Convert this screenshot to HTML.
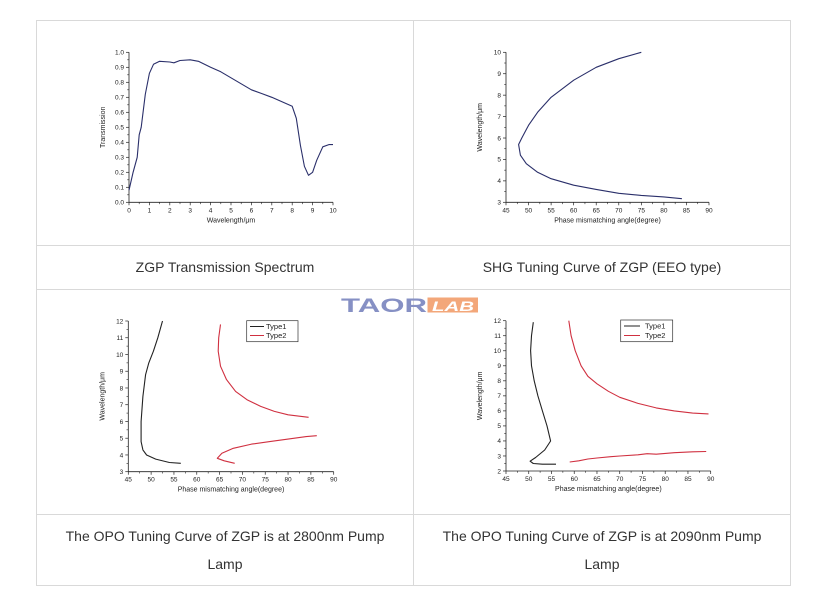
<!DOCTYPE html>
<html><head><meta charset="utf-8"><style>
body{margin:0;background:#fff;width:820px;height:616px;overflow:hidden}
svg{position:absolute;left:0;top:0}
</style></head><body>
<svg id="s" width="820" height="616" xmlns="http://www.w3.org/2000/svg" font-family="Liberation Sans, sans-serif">
<g stroke="#d9d9d9" stroke-width="1" fill="none">
<rect x="36.5" y="20.5" width="754" height="565"/>
<line x1="413.5" y1="20" x2="413.5" y2="585"/>
<line x1="36" y1="245.5" x2="790" y2="245.5"/>
<line x1="36" y1="289.5" x2="790" y2="289.5"/>
<line x1="36" y1="514.5" x2="790" y2="514.5"/>
</g>
<g font-size="14" fill="#333" text-anchor="middle">
<text x="225" y="272">ZGP Transmission Spectrum</text>
<text x="602" y="272">SHG Tuning Curve of ZGP (EEO type)</text>
<text x="225" y="541">The OPO Tuning Curve of ZGP is at 2800nm Pump</text>
<text x="225" y="569">Lamp</text>
<text x="602" y="541">The OPO Tuning Curve of ZGP is at 2090nm Pump</text>
<text x="602" y="569">Lamp</text>
</g>
<g id="ax"></g>
<g fill="none" stroke-width="1.1" stroke-linejoin="round">
<polyline stroke="#2a2f6a" points="129,190.3 133.1,172.3 137.2,157.3 139.2,134.8 141.2,127.3 145.3,94.3 149.4,73.3 153.5,64.3 159.6,61.3 169.8,62 173.9,62.8 180,60.5 190.2,59.8 198.4,61.3 210.6,67.3 220.8,71.8 231,77.8 241.2,83.8 251.4,89.8 261.6,93.5 271.8,97.3 282,101.8 292.2,106.3 296.3,118.3 300.4,145.3 304.4,166.3 308.5,175.3 312.6,172.3 316.7,160.3 322.8,146.8 328.9,144.6 333,144.6"/>
<polyline stroke="#2a2f6a" points="641.3,52.3 618.8,58.7 596.2,67.3 573.7,80.2 551.1,97.3 537.6,112.3 528.6,125.2 521.8,138 518.6,144.5 520.4,155.2 526.3,163.7 537.6,172.3 551.1,178.7 573.7,185.2 596.2,189.4 618.8,193.3 641.3,195.4 663.9,196.9 681.9,198.7"/>
<polyline stroke="#222" points="162.5,321 157.8,337.8 153.4,351.2 148.8,362.9 145.6,374.6 142.9,396.4 141.1,421.5 141.1,441.6 142.9,449.9 146.6,455 155.7,459.1 169.4,462.5 180.8,463.3"/>
<polyline stroke="#d03040" points="220.5,324.4 218.7,337.8 218.2,351.2 220.5,366.2 226.5,379.6 235.6,391.4 247,399.7 260.7,406.4 274.4,411.4 288.1,414.8 308.6,417.3"/>
<polyline stroke="#d03040" points="234.7,463.3 224.2,460.8 217.3,458.3 221.9,453.3 233.3,448.3 251.6,444.1 269.8,441.6 288.1,439.1 306.3,436.6 316.8,435.7"/>
<polyline stroke="#222" points="533.3,322.2 531.5,335.7 530.6,350.7 531.5,365.8 534.2,380.8 537.9,395.9 542.4,410.9 547,425.9 550.6,441 544.7,450 535.6,457.5 530.1,461.2 533.3,463.5 542.4,464.2 556,464.2"/>
<polyline stroke="#d03040" points="568.8,320.7 571.1,335.7 575.2,350.7 581.1,365.8 587.9,376.3 597,383.8 608.4,391.3 619.8,397.3 638,403.4 656.2,407.9 674.4,410.9 692.6,413.1 708.5,413.9"/>
<polyline stroke="#d03040" points="569.7,462 578.8,460.8 587.9,459 597,458 610.7,456.7 619.8,456 638,454.8 647.1,453.7 656.2,454.2 674.4,452.7 692.6,451.8 706.2,451.5"/>
</g>
<g font-size="7.5" fill="#222">
<rect x="246.7" y="320.7" width="51.3" height="21" fill="#fff" stroke="#333" stroke-width="0.7"/>
<line x1="250" y1="326.5" x2="264" y2="326.5" stroke="#222"/><text x="266" y="329">Type1</text>
<line x1="250" y1="335.5" x2="264" y2="335.5" stroke="#d03040"/><text x="266" y="338">Type2</text>
<rect x="620.7" y="320" width="52" height="21.7" fill="#fff" stroke="#333" stroke-width="0.7"/>
<line x1="624" y1="326" x2="640" y2="326" stroke="#222"/><text x="645" y="328.5">Type1</text>
<line x1="624" y1="335.5" x2="640" y2="335.5" stroke="#d03040"/><text x="645" y="338">Type2</text>
</g>
<rect x="427.5" y="297.5" width="50.5" height="15" fill="#f3a77a"/>
<text x="341" y="312" font-size="19" font-weight="bold" fill="#8690c4" textLength="86" lengthAdjust="spacingAndGlyphs">TAOR</text>
<text x="432" y="311" font-size="14" font-weight="bold" font-style="italic" fill="#fff" textLength="42" lengthAdjust="spacingAndGlyphs">LAB</text>
</svg>
<script>
var g=document.getElementById('ax'),NS='http://www.w3.org/2000/svg';
function el(t,a,txt){var e=document.createElementNS(NS,t);for(var k in a)e.setAttribute(k,a[k]);if(txt!=null)e.textContent=txt;g.appendChild(e);return e;}
function axes(x0,x1,y0,y1,xa,xb,xs,ya,yb,ys,xdec,ydec,xt,yt){
 el('line',{x1:x0,y1:y0,x2:x1,y2:y0,stroke:'#222','stroke-width':0.8});
 el('line',{x1:x0,y1:y0,x2:x0,y2:y1,stroke:'#222','stroke-width':0.8});
 var n=Math.round((xb-xa)/xs);
 for(var i=0;i<=n;i++){var x=x0+(x1-x0)*i/n;el('line',{x1:x,y1:y0,x2:x,y2:y0+3,stroke:'#222','stroke-width':0.7});
  if(i<n)el('line',{x1:x+(x1-x0)/n/2,y1:y0,x2:x+(x1-x0)/n/2,y2:y0+1.8,stroke:'#222','stroke-width':0.6});
  el('text',{x:x,y:y0+10,'font-size':6.5,'text-anchor':'middle',fill:'#222'},(xa+i*xs).toFixed(xdec));}
 var m=Math.round((yb-ya)/ys);
 for(var j=0;j<=m;j++){var y=y0+(y1-y0)*j/m;el('line',{x1:x0,y1:y,x2:x0-3,y2:y,stroke:'#222','stroke-width':0.7});
  if(j<m)el('line',{x1:x0,y1:y+(y1-y0)/m/2,x2:x0-1.8,y2:y+(y1-y0)/m/2,stroke:'#222','stroke-width':0.6});
  el('text',{x:x0-5,y:y+2.3,'font-size':6.5,'text-anchor':'end',fill:'#222'},(ya+j*ys).toFixed(ydec));}
 el('text',{x:(x0+x1)/2,y:y0+20,'font-size':7,'text-anchor':'middle',fill:'#222'},xt);
 var cy=(y0+y1)/2,cx=x0-24;
 el('text',{x:cx,y:cy,'font-size':7,'text-anchor':'middle',fill:'#222',transform:'rotate(-90 '+cx+' '+cy+')'},yt);
}
axes(129,333,202.3,52.3,0,10,1,0,1,0.1,0,1,'Wavelength/μm','Transmission');
axes(506,709,202.3,52.3,45,90,5,3,10,1,0,0,'Phase mismatching angle(degree)','Wavelength/μm');
axes(128.3,333.7,471.7,321,45,90,5,3,12,1,0,0,'Phase mismatching angle(degree)','Wavelength/μm');
axes(506,710.7,471,320.7,45,90,5,2,12,1,0,0,'Phase mismatching angle(degree)','Wavelength/μm');
</script>
</body></html>
